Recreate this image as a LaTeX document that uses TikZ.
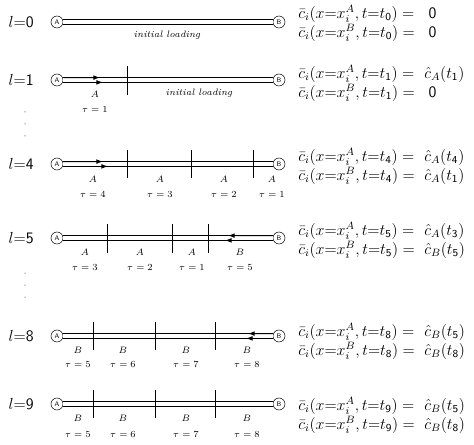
\documentclass[tikz,border=0pt]{standalone}
\usepackage{amsmath}
\usepackage{tikz}
\usetikzlibrary{arrows.meta,positioning,calc}

\begin{document}
\begin{tikzpicture}[
            x=0.75pt, y=-0.75pt,
            tip/.style={circle, draw, thin, inner sep=0pt, minimum size=9pt, font=\sffamily\tiny},
            pipe/.style={double distance=3pt, line width=0.6pt},
            cut/.style={line width=0.6pt},
            flow/.style={-{Latex[length=5pt,width=3.6pt]}, line width=0.7pt},
            lev/.style={anchor=west, font=\fontsize{13}{15}\selectfont},
            seg/.style={font=\fontsize{7}{8}\selectfont},
            eq/.style={anchor=west, inner sep=0pt, font=\fontsize{11.5}{14}\selectfont}
        ]
            \useasboundingbox (0,0) rectangle (474,445);

% --- level labels ---
            \node[lev] (l0) at (4,22) {$l{=}\mathsf{0}$};
            \node[lev] (l1) at (4,80) {$l{=}\mathsf{1}$};
            \node[lev] (l4) at (4,164) {$l{=}\mathsf{4}$};
            \node[lev] (l5) at (4,238) {$l{=}\mathsf{5}$};
            \node[lev] (l8) at (4,336) {$l{=}\mathsf{8}$};
            \node[lev] (l9) at (4,404) {$l{=}\mathsf{9}$};

% --- pipe ends ---
            \node[tip] (A0) at (57,22) {A};
            \node[tip] (B0) at (279,22) {B};
            \node[tip] (A1) at (57,80) {A};
            \node[tip] (B1) at (279,80) {B};
            \node[tip] (A4) at (57,164) {A};
            \node[tip] (B4) at (279,164) {B};
            \node[tip] (A5) at (57,238) {A};
            \node[tip] (B5) at (279,238) {B};
            \node[tip] (A8) at (57,336) {A};
            \node[tip] (B8) at (279,336) {B};
            \node[tip] (A9) at (57,404) {A};
            \node[tip] (B9) at (279,404) {B};

% --- pipes ---
            \draw[pipe] (A0)--(B0);
            \draw[pipe] (A1)--(B1);
            \draw[pipe] (A4)--(B4);
            \draw[pipe] (A5)--(B5);
            \draw[pipe] (A8)--(B8);
            \draw[pipe] (A9)--(B9);

% --- moving fronts ---
            \draw[flow] ($(A1.east)+(0,-2.4)$) -- (100,77.6);
            \draw[flow] ($(A1.east)+(0,2.4)$) -- (103,82.4);
            \draw[flow] ($(A4.east)+(0,-2.4)$) -- (103,161.6);
            \draw[flow] ($(A4.east)+(0,2.4)$) -- (108,166.4);
            \draw[flow] ($(B5.west)+(0,-2.4)$) -- (228,235.6);
            \draw[flow] ($(B5.west)+(0,2.4)$) -- (225,240.4);
            \draw[flow] ($(B8.west)+(0,-2.4)$) -- (248,333.6);
            \draw[flow] ($(B8.west)+(0,2.4)$) -- (246,338.4);

% --- cell borders ---
            \draw[cut] (127,66) -- (127,95);
            \draw[cut] (127,150) -- (127,178);
            \draw[cut] (191,150) -- (191,178);
            \draw[cut] (253,150) -- (253,178);
            \draw[cut] (107,224) -- (107,253);
            \draw[cut] (172,224) -- (172,253);
            \draw[cut] (208,224) -- (208,253);
            \draw[cut] (93,322) -- (93,350);
            \draw[cut] (155,322) -- (155,350);
            \draw[cut] (215,322) -- (215,350);
            \draw[cut] (93,390) -- (93,418);
            \draw[cut] (155,390) -- (155,418);
            \draw[cut] (215,390) -- (215,418);

% --- cell labels ---
            \node[seg] at (167,35) {\itshape initial loading};
            \node[seg] at (95,94) {$A$};
            \node[seg] at (95,109) {$\tau=1$};
            \node[seg] at (199,93) {\itshape initial loading};

            \node[seg] at (93,179) {$A$};
            \node[seg] at (160,179) {$A$};
            \node[seg] at (224,179) {$A$};
            \node[seg] at (272,179) {$A$};
            \node[seg] at (93,194) {$\tau=4$};
            \node[seg] at (160,194) {$\tau=3$};
            \node[seg] at (224,194) {$\tau=2$};
            \node[seg] at (272,194) {$\tau=1$};

            \node[seg] at (85,252) {$A$};
            \node[seg] at (140,252) {$A$};
            \node[seg] at (192,252) {$A$};
            \node[seg] at (240,252) {$B$};
            \node[seg] at (85,267) {$\tau=3$};
            \node[seg] at (140,267) {$\tau=2$};
            \node[seg] at (192,267) {$\tau=1$};
            \node[seg] at (240,267) {$\tau=5$};

            \node[seg] at (78,350) {$B$};
            \node[seg] at (123,350) {$B$};
            \node[seg] at (186,350) {$B$};
            \node[seg] at (247,350) {$B$};
            \node[seg] at (78,364) {$\tau=5$};
            \node[seg] at (123,364) {$\tau=6$};
            \node[seg] at (186,364) {$\tau=7$};
            \node[seg] at (247,364) {$\tau=8$};

            \node[seg] at (78,418) {$B$};
            \node[seg] at (123,418) {$B$};
            \node[seg] at (186,418) {$B$};
            \node[seg] at (247,418) {$B$};
            \node[seg] at (78,434) {$\tau=5$};
            \node[seg] at (123,434) {$\tau=6$};
            \node[seg] at (186,434) {$\tau=7$};
            \node[seg] at (247,434) {$\tau=8$};

% --- skipped levels ---
            \fill (25,112) circle (0.5);
            \fill (25,124) circle (0.5);
            \fill (25,136) circle (0.5);
            \fill (25,273) circle (0.5);
            \fill (25,285) circle (0.5);
            \fill (25,297) circle (0.5);

% --- boundary values ---
            \node[eq] (e0) at (298,24) {$\begin{array}{@{}l@{\hspace{7pt}}l@{}}
                \bar{c}_i(x{=}x_i^A,t{=}t_{\mathsf{0}}) = & \;\mathsf{0}\\
                \bar{c}_i(x{=}x_i^B,t{=}t_{\mathsf{0}}) = & \;\mathsf{0}
              \end{array}$};
            \node[eq] (e1) at (298,84) {$\begin{array}{@{}l@{\hspace{7pt}}l@{}}
                \bar{c}_i(x{=}x_i^A,t{=}t_{\mathsf{1}}) = & \hat{c}_A(t_{\mathsf{1}})\\
                \bar{c}_i(x{=}x_i^B,t{=}t_{\mathsf{1}}) = & \;\mathsf{0}
              \end{array}$};
            \node[eq] (e4) at (298,167) {$\begin{array}{@{}l@{\hspace{7pt}}l@{}}
                \bar{c}_i(x{=}x_i^A,t{=}t_{\mathsf{4}}) = & \hat{c}_A(t_{\mathsf{4}})\\
                \bar{c}_i(x{=}x_i^B,t{=}t_{\mathsf{4}}) = & \hat{c}_A(t_{\mathsf{1}})
              \end{array}$};
            \node[eq] (e5) at (298,241) {$\begin{array}{@{}l@{\hspace{7pt}}l@{}}
                \bar{c}_i(x{=}x_i^A,t{=}t_{\mathsf{5}}) = & \hat{c}_A(t_{\mathsf{3}})\\
                \bar{c}_i(x{=}x_i^B,t{=}t_{\mathsf{5}}) = & \hat{c}_B(t_{\mathsf{5}})
              \end{array}$};
            \node[eq] (e8) at (298,342) {$\begin{array}{@{}l@{\hspace{7pt}}l@{}}
                \bar{c}_i(x{=}x_i^A,t{=}t_{\mathsf{8}}) = & \hat{c}_B(t_{\mathsf{5}})\\
                \bar{c}_i(x{=}x_i^B,t{=}t_{\mathsf{8}}) = & \hat{c}_B(t_{\mathsf{8}})
              \end{array}$};
            \node[eq] (e9) at (298,416) {$\begin{array}{@{}l@{\hspace{7pt}}l@{}}
                \bar{c}_i(x{=}x_i^A,t{=}t_{\mathsf{9}}) = & \hat{c}_B(t_{\mathsf{5}})\\
                \bar{c}_i(x{=}x_i^B,t{=}t_{\mathsf{9}}) = & \hat{c}_B(t_{\mathsf{8}})
              \end{array}$};

        \end{tikzpicture}
\end{document}
